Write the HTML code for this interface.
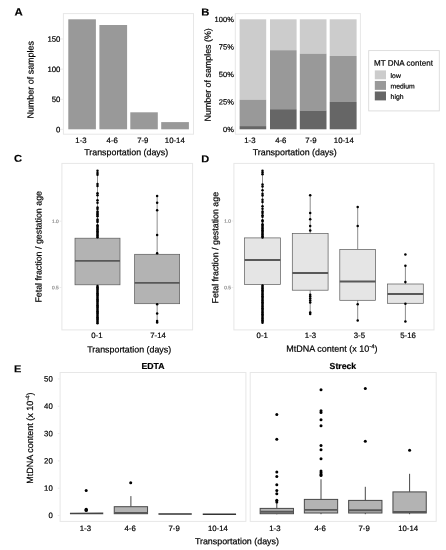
<!DOCTYPE html>
<html lang="en">
<head>
<meta charset="utf-8">
<title>Figure</title>
<style>
html,body{margin:0;padding:0;background:#fff;}
body{width:446px;height:550px;overflow:hidden;}
svg{display:block;font-family:"Liberation Sans", Arial, sans-serif;text-rendering:geometricPrecision;filter:blur(0.3px);}
</style>
</head>
<body>
<svg width="446" height="550" viewBox="0 0 446 550">
<rect x="0" y="0" width="446" height="550" fill="#fff"/>
<text transform="translate(14.4,15.45) rotate(0.03) scale(1.1,1)" font-size="10.4" font-weight="bold" fill="#000" stroke="#000" stroke-width="0.15">A</text>
<rect x="63.4" y="13.6" width="130.10" height="120.60" fill="#fff" stroke="#e7e7e7" stroke-width="1"/>
<rect x="68.3" y="19.3" width="27.60" height="110.00" fill="#999"/>
<rect x="99.4" y="25.0" width="27.70" height="104.30" fill="#999"/>
<rect x="130.3" y="112.3" width="27.50" height="17.00" fill="#999"/>
<rect x="161.2" y="122.1" width="27.70" height="7.20" fill="#999"/>
<text transform="translate(60.40,41.76) rotate(0.03)" font-size="7.8" text-anchor="end" font-weight="normal" fill="#000" stroke="#000" stroke-width="0.2" >150</text>
<text transform="translate(60.40,71.95) rotate(0.03)" font-size="7.8" text-anchor="end" font-weight="normal" fill="#000" stroke="#000" stroke-width="0.2" >100</text>
<text transform="translate(60.40,102.10) rotate(0.03)" font-size="7.8" text-anchor="end" font-weight="normal" fill="#000" stroke="#000" stroke-width="0.2" >50</text>
<text transform="translate(60.40,132.15) rotate(0.03)" font-size="7.8" text-anchor="end" font-weight="normal" fill="#000" stroke="#000" stroke-width="0.2" >0</text>
<text transform="translate(81.00,142.90) rotate(0.03)" font-size="7.8" text-anchor="middle" font-weight="normal" fill="#000" stroke="#000" stroke-width="0.2" >1-3</text>
<text transform="translate(112.20,142.90) rotate(0.03)" font-size="7.8" text-anchor="middle" font-weight="normal" fill="#000" stroke="#000" stroke-width="0.2" >4-6</text>
<text transform="translate(142.80,142.90) rotate(0.03)" font-size="7.8" text-anchor="middle" font-weight="normal" fill="#000" stroke="#000" stroke-width="0.2" >7-9</text>
<text transform="translate(174.80,142.90) rotate(0.03)" font-size="7.8" text-anchor="middle" font-weight="normal" fill="#000" stroke="#000" stroke-width="0.2" >10-14</text>
<text transform="translate(126.20,155.25) rotate(0.03)" font-size="8.88" text-anchor="middle" font-weight="normal" fill="#000" stroke="#000" stroke-width="0.2" >Transportation (days)</text>
<text transform="translate(33.6,79.8) rotate(-89.97)" font-size="8.95" text-anchor="middle" fill="#000" stroke="#000" stroke-width="0.2">Number of samples</text>
<text transform="translate(201.2,15.4) rotate(0.03) scale(1.1,1)" font-size="10.2" font-weight="bold" fill="#000" stroke="#000" stroke-width="0.15">B</text>
<rect x="235.3" y="13.6" width="125.10" height="120.60" fill="#fff" stroke="#e7e7e7" stroke-width="1"/>
<rect x="239.6" y="19.3" width="26.60" height="80.40" fill="#ccc"/>
<rect x="239.6" y="99.7" width="26.60" height="26.40" fill="#999"/>
<rect x="239.6" y="126.1" width="26.60" height="3.20" fill="#666"/>
<rect x="270.0" y="19.3" width="26.60" height="30.90" fill="#ccc"/>
<rect x="270.0" y="50.2" width="26.60" height="59.00" fill="#999"/>
<rect x="270.0" y="109.2" width="26.60" height="20.10" fill="#666"/>
<rect x="299.8" y="19.3" width="26.70" height="34.40" fill="#ccc"/>
<rect x="299.8" y="53.7" width="26.70" height="56.80" fill="#999"/>
<rect x="299.8" y="110.5" width="26.70" height="18.80" fill="#666"/>
<rect x="329.7" y="19.3" width="26.90" height="36.70" fill="#ccc"/>
<rect x="329.7" y="56.0" width="26.90" height="46.00" fill="#999"/>
<rect x="329.7" y="102.0" width="26.90" height="27.30" fill="#666"/>
<text transform="translate(233.80,22.00) rotate(0.03)" font-size="7.5" text-anchor="end" font-weight="normal" fill="#000" stroke="#000" stroke-width="0.2" >100%</text>
<text transform="translate(233.80,49.50) rotate(0.03)" font-size="7.5" text-anchor="end" font-weight="normal" fill="#000" stroke="#000" stroke-width="0.2" >75%</text>
<text transform="translate(233.80,77.00) rotate(0.03)" font-size="7.5" text-anchor="end" font-weight="normal" fill="#000" stroke="#000" stroke-width="0.2" >50%</text>
<text transform="translate(233.80,104.50) rotate(0.03)" font-size="7.5" text-anchor="end" font-weight="normal" fill="#000" stroke="#000" stroke-width="0.2" >25%</text>
<text transform="translate(233.80,132.00) rotate(0.03)" font-size="7.5" text-anchor="end" font-weight="normal" fill="#000" stroke="#000" stroke-width="0.2" >0%</text>
<text transform="translate(249.90,142.90) rotate(0.03)" font-size="7.8" text-anchor="middle" font-weight="normal" fill="#000" stroke="#000" stroke-width="0.2" >1-3</text>
<text transform="translate(280.80,142.90) rotate(0.03)" font-size="7.8" text-anchor="middle" font-weight="normal" fill="#000" stroke="#000" stroke-width="0.2" >4-6</text>
<text transform="translate(311.00,142.90) rotate(0.03)" font-size="7.8" text-anchor="middle" font-weight="normal" fill="#000" stroke="#000" stroke-width="0.2" >7-9</text>
<text transform="translate(343.80,142.90) rotate(0.03)" font-size="7.8" text-anchor="middle" font-weight="normal" fill="#000" stroke="#000" stroke-width="0.2" >10-14</text>
<text transform="translate(294.70,155.20) rotate(0.03)" font-size="8.88" text-anchor="middle" font-weight="normal" fill="#000" stroke="#000" stroke-width="0.2" >Transportation (days)</text>
<text transform="translate(210.7,74.8) rotate(-89.97)" font-size="8.9" text-anchor="middle" fill="#000" stroke="#000" stroke-width="0.2">Number of samples (%)</text>
<rect x="368.7" y="50.6" width="70.6" height="60.3" fill="#fff" stroke="#dadada" stroke-width="0.9"/>
<text transform="translate(374.00,65.80) rotate(0.03)" font-size="8.05" text-anchor="start" font-weight="normal" fill="#000" stroke="#000" stroke-width="0.2" >MT DNA content</text>
<rect x="374.8" y="70.40" width="11.2" height="8.9" fill="#ccc"/>
<text transform="translate(390.60,78.00) rotate(0.03)" font-size="6.8" text-anchor="start" font-weight="normal" fill="#000" stroke="#000" stroke-width="0.2" >low</text>
<rect x="374.8" y="80.95" width="11.2" height="8.9" fill="#999"/>
<text transform="translate(390.60,88.55) rotate(0.03)" font-size="6.8" text-anchor="start" font-weight="normal" fill="#000" stroke="#000" stroke-width="0.2" >medium</text>
<rect x="374.8" y="91.50" width="11.2" height="8.9" fill="#666"/>
<text transform="translate(390.60,99.10) rotate(0.03)" font-size="6.8" text-anchor="start" font-weight="normal" fill="#000" stroke="#000" stroke-width="0.2" >high</text>
<text transform="translate(14.0,161.8) rotate(0.03) scale(1.1,1)" font-size="10" font-weight="bold" fill="#000" stroke="#000" stroke-width="0.15">C</text>
<rect x="61.9" y="163.4" width="130.70" height="166.50" fill="#fff" stroke="#e7e7e7" stroke-width="1"/>
<line x1="97.50" y1="170.70" x2="97.50" y2="238.20" stroke="#5a5a5a" stroke-width="0.7"/>
<line x1="97.50" y1="284.80" x2="97.50" y2="323.40" stroke="#5a5a5a" stroke-width="0.7"/>
<rect x="75.00" y="238.20" width="45.00" height="46.60" fill="#b3b3b3" stroke="#5a5a5a" stroke-width="0.7"/>
<line x1="75.00" y1="260.90" x2="120.00" y2="260.90" stroke="#585858" stroke-width="1.9"/>
<circle cx="97.50" cy="170.70" r="1.25" fill="#000"/>
<circle cx="97.50" cy="172.90" r="1.25" fill="#000"/>
<circle cx="97.50" cy="174.80" r="1.25" fill="#000"/>
<circle cx="97.50" cy="183.90" r="1.25" fill="#000"/>
<circle cx="97.50" cy="186.00" r="1.25" fill="#000"/>
<circle cx="97.50" cy="193.30" r="1.25" fill="#000"/>
<circle cx="97.50" cy="195.20" r="1.25" fill="#000"/>
<circle cx="97.50" cy="200.20" r="1.25" fill="#000"/>
<circle cx="97.50" cy="202.70" r="1.25" fill="#000"/>
<circle cx="97.50" cy="207.50" r="1.25" fill="#000"/>
<circle cx="97.50" cy="209.00" r="1.25" fill="#000"/>
<circle cx="97.50" cy="211.50" r="1.25" fill="#000"/>
<circle cx="97.50" cy="212.70" r="1.25" fill="#000"/>
<circle cx="97.50" cy="213.90" r="1.25" fill="#000"/>
<circle cx="97.50" cy="215.10" r="1.25" fill="#000"/>
<circle cx="97.50" cy="216.30" r="1.25" fill="#000"/>
<circle cx="97.50" cy="219.60" r="1.25" fill="#000"/>
<circle cx="97.50" cy="220.80" r="1.25" fill="#000"/>
<circle cx="97.50" cy="222.00" r="1.25" fill="#000"/>
<circle cx="97.50" cy="225.30" r="1.25" fill="#000"/>
<circle cx="97.50" cy="226.50" r="1.25" fill="#000"/>
<circle cx="97.50" cy="227.70" r="1.25" fill="#000"/>
<circle cx="97.50" cy="228.90" r="1.25" fill="#000"/>
<circle cx="97.50" cy="230.10" r="1.25" fill="#000"/>
<circle cx="97.50" cy="231.30" r="1.25" fill="#000"/>
<circle cx="97.50" cy="232.50" r="1.25" fill="#000"/>
<circle cx="97.50" cy="233.70" r="1.25" fill="#000"/>
<circle cx="97.50" cy="234.90" r="1.25" fill="#000"/>
<circle cx="97.50" cy="236.10" r="1.25" fill="#000"/>
<circle cx="97.50" cy="237.30" r="1.25" fill="#000"/>
<circle cx="97.50" cy="286.00" r="1.25" fill="#000"/>
<circle cx="97.50" cy="287.20" r="1.25" fill="#000"/>
<circle cx="97.50" cy="288.40" r="1.25" fill="#000"/>
<circle cx="97.50" cy="289.60" r="1.25" fill="#000"/>
<circle cx="97.50" cy="290.80" r="1.25" fill="#000"/>
<circle cx="97.50" cy="292.00" r="1.25" fill="#000"/>
<circle cx="97.50" cy="293.20" r="1.25" fill="#000"/>
<circle cx="97.50" cy="294.40" r="1.25" fill="#000"/>
<circle cx="97.50" cy="295.60" r="1.25" fill="#000"/>
<circle cx="97.50" cy="296.80" r="1.25" fill="#000"/>
<circle cx="97.50" cy="298.00" r="1.25" fill="#000"/>
<circle cx="97.50" cy="299.20" r="1.25" fill="#000"/>
<circle cx="97.50" cy="300.40" r="1.25" fill="#000"/>
<circle cx="97.50" cy="301.60" r="1.25" fill="#000"/>
<circle cx="97.50" cy="302.80" r="1.25" fill="#000"/>
<circle cx="97.50" cy="304.00" r="1.25" fill="#000"/>
<circle cx="97.50" cy="305.20" r="1.25" fill="#000"/>
<circle cx="97.50" cy="306.40" r="1.25" fill="#000"/>
<circle cx="97.50" cy="307.60" r="1.25" fill="#000"/>
<circle cx="97.50" cy="308.80" r="1.25" fill="#000"/>
<circle cx="97.50" cy="310.00" r="1.25" fill="#000"/>
<circle cx="97.50" cy="311.20" r="1.25" fill="#000"/>
<circle cx="97.50" cy="312.40" r="1.25" fill="#000"/>
<circle cx="97.50" cy="313.60" r="1.25" fill="#000"/>
<circle cx="97.50" cy="314.80" r="1.25" fill="#000"/>
<circle cx="97.50" cy="316.00" r="1.25" fill="#000"/>
<circle cx="97.50" cy="317.20" r="1.25" fill="#000"/>
<circle cx="97.50" cy="318.40" r="1.25" fill="#000"/>
<circle cx="97.50" cy="319.60" r="1.25" fill="#000"/>
<circle cx="97.50" cy="320.80" r="1.25" fill="#000"/>
<circle cx="97.50" cy="322.00" r="1.25" fill="#000"/>
<circle cx="97.50" cy="323.20" r="1.25" fill="#000"/>
<line x1="157.15" y1="196.00" x2="157.15" y2="254.30" stroke="#5a5a5a" stroke-width="0.7"/>
<line x1="157.15" y1="303.70" x2="157.15" y2="321.50" stroke="#5a5a5a" stroke-width="0.7"/>
<rect x="134.65" y="254.30" width="45.00" height="49.40" fill="#b3b3b3" stroke="#5a5a5a" stroke-width="0.7"/>
<line x1="134.65" y1="282.90" x2="179.65" y2="282.90" stroke="#585858" stroke-width="1.9"/>
<circle cx="157.15" cy="196.00" r="1.25" fill="#000"/>
<circle cx="157.15" cy="202.70" r="1.25" fill="#000"/>
<circle cx="157.15" cy="210.30" r="1.25" fill="#000"/>
<circle cx="157.15" cy="234.90" r="1.25" fill="#000"/>
<circle cx="157.15" cy="253.20" r="1.25" fill="#000"/>
<circle cx="157.15" cy="304.30" r="1.25" fill="#000"/>
<circle cx="157.15" cy="313.60" r="1.25" fill="#000"/>
<circle cx="157.15" cy="320.90" r="1.25" fill="#000"/>
<circle cx="157.15" cy="322.40" r="1.25" fill="#000"/>
<text transform="translate(58.70,223.00) rotate(0.03)" font-size="4.8" text-anchor="end" font-weight="normal" fill="#8f8f8f" stroke="#8f8f8f" stroke-width="0.2" >1.0</text>
<text transform="translate(58.70,289.30) rotate(0.03)" font-size="4.8" text-anchor="end" font-weight="normal" fill="#8f8f8f" stroke="#8f8f8f" stroke-width="0.2" >0.5</text>
<text transform="translate(96.90,338.10) rotate(0.03)" font-size="7.8" text-anchor="middle" font-weight="normal" fill="#000" stroke="#000" stroke-width="0.2" >0-1</text>
<text transform="translate(158.00,338.10) rotate(0.03)" font-size="7.8" text-anchor="middle" font-weight="normal" fill="#000" stroke="#000" stroke-width="0.2" >7-14</text>
<text transform="translate(129.20,352.50) rotate(0.03)" font-size="8.88" text-anchor="middle" font-weight="normal" fill="#000" stroke="#000" stroke-width="0.2" >Transportation (days)</text>
<text transform="translate(41.5,246.8) rotate(-89.97)" font-size="8.85" text-anchor="middle" fill="#000" stroke="#000" stroke-width="0.2">Fetal fraction / gestation age</text>
<text transform="translate(201.2,162.2) rotate(0.03) scale(1.1,1)" font-size="10" font-weight="bold" fill="#000" stroke="#000" stroke-width="0.15">D</text>
<rect x="233.9" y="163.4" width="200.10" height="166.50" fill="#fff" stroke="#e7e7e7" stroke-width="1"/>
<line x1="262.50" y1="170.80" x2="262.50" y2="237.90" stroke="#5a5a5a" stroke-width="0.7"/>
<line x1="262.50" y1="284.40" x2="262.50" y2="322.90" stroke="#5a5a5a" stroke-width="0.7"/>
<rect x="244.60" y="237.90" width="35.80" height="46.50" fill="#e5e5e5" stroke="#5a5a5a" stroke-width="0.7"/>
<line x1="244.60" y1="260.00" x2="280.40" y2="260.00" stroke="#585858" stroke-width="1.9"/>
<circle cx="262.50" cy="170.80" r="1.25" fill="#000"/>
<circle cx="262.50" cy="172.60" r="1.25" fill="#000"/>
<circle cx="262.50" cy="174.20" r="1.25" fill="#000"/>
<circle cx="262.50" cy="184.60" r="1.25" fill="#000"/>
<circle cx="262.50" cy="186.50" r="1.25" fill="#000"/>
<circle cx="262.50" cy="190.30" r="1.25" fill="#000"/>
<circle cx="262.50" cy="193.70" r="1.25" fill="#000"/>
<circle cx="262.50" cy="195.60" r="1.25" fill="#000"/>
<circle cx="262.50" cy="199.70" r="1.25" fill="#000"/>
<circle cx="262.50" cy="202.00" r="1.25" fill="#000"/>
<circle cx="262.50" cy="206.30" r="1.25" fill="#000"/>
<circle cx="262.50" cy="208.80" r="1.25" fill="#000"/>
<circle cx="262.50" cy="211.50" r="1.25" fill="#000"/>
<circle cx="262.50" cy="213.00" r="1.25" fill="#000"/>
<circle cx="262.50" cy="215.20" r="1.25" fill="#000"/>
<circle cx="262.50" cy="216.80" r="1.25" fill="#000"/>
<circle cx="262.50" cy="220.20" r="1.25" fill="#000"/>
<circle cx="262.50" cy="221.50" r="1.25" fill="#000"/>
<circle cx="262.50" cy="224.30" r="1.25" fill="#000"/>
<circle cx="262.50" cy="225.50" r="1.25" fill="#000"/>
<circle cx="262.50" cy="226.70" r="1.25" fill="#000"/>
<circle cx="262.50" cy="227.90" r="1.25" fill="#000"/>
<circle cx="262.50" cy="229.10" r="1.25" fill="#000"/>
<circle cx="262.50" cy="230.30" r="1.25" fill="#000"/>
<circle cx="262.50" cy="231.50" r="1.25" fill="#000"/>
<circle cx="262.50" cy="232.70" r="1.25" fill="#000"/>
<circle cx="262.50" cy="233.90" r="1.25" fill="#000"/>
<circle cx="262.50" cy="235.10" r="1.25" fill="#000"/>
<circle cx="262.50" cy="236.30" r="1.25" fill="#000"/>
<circle cx="262.50" cy="237.50" r="1.25" fill="#000"/>
<circle cx="262.50" cy="285.50" r="1.25" fill="#000"/>
<circle cx="262.50" cy="286.70" r="1.25" fill="#000"/>
<circle cx="262.50" cy="287.90" r="1.25" fill="#000"/>
<circle cx="262.50" cy="289.10" r="1.25" fill="#000"/>
<circle cx="262.50" cy="290.30" r="1.25" fill="#000"/>
<circle cx="262.50" cy="291.50" r="1.25" fill="#000"/>
<circle cx="262.50" cy="292.70" r="1.25" fill="#000"/>
<circle cx="262.50" cy="293.90" r="1.25" fill="#000"/>
<circle cx="262.50" cy="295.10" r="1.25" fill="#000"/>
<circle cx="262.50" cy="296.30" r="1.25" fill="#000"/>
<circle cx="262.50" cy="297.50" r="1.25" fill="#000"/>
<circle cx="262.50" cy="298.70" r="1.25" fill="#000"/>
<circle cx="262.50" cy="299.90" r="1.25" fill="#000"/>
<circle cx="262.50" cy="301.10" r="1.25" fill="#000"/>
<circle cx="262.50" cy="302.30" r="1.25" fill="#000"/>
<circle cx="262.50" cy="303.50" r="1.25" fill="#000"/>
<circle cx="262.50" cy="304.70" r="1.25" fill="#000"/>
<circle cx="262.50" cy="305.90" r="1.25" fill="#000"/>
<circle cx="262.50" cy="307.10" r="1.25" fill="#000"/>
<circle cx="262.50" cy="308.30" r="1.25" fill="#000"/>
<circle cx="262.50" cy="309.50" r="1.25" fill="#000"/>
<circle cx="262.50" cy="310.70" r="1.25" fill="#000"/>
<circle cx="262.50" cy="311.90" r="1.25" fill="#000"/>
<circle cx="262.50" cy="313.10" r="1.25" fill="#000"/>
<circle cx="262.50" cy="314.30" r="1.25" fill="#000"/>
<circle cx="262.50" cy="315.50" r="1.25" fill="#000"/>
<circle cx="262.50" cy="316.70" r="1.25" fill="#000"/>
<circle cx="262.50" cy="317.90" r="1.25" fill="#000"/>
<circle cx="262.50" cy="319.10" r="1.25" fill="#000"/>
<circle cx="262.50" cy="320.30" r="1.25" fill="#000"/>
<circle cx="262.50" cy="321.50" r="1.25" fill="#000"/>
<circle cx="262.50" cy="322.70" r="1.25" fill="#000"/>
<line x1="310.20" y1="195.50" x2="310.20" y2="233.50" stroke="#5a5a5a" stroke-width="0.7"/>
<line x1="310.20" y1="290.20" x2="310.20" y2="314.10" stroke="#5a5a5a" stroke-width="0.7"/>
<rect x="292.30" y="233.50" width="35.80" height="56.70" fill="#e5e5e5" stroke="#5a5a5a" stroke-width="0.7"/>
<line x1="292.30" y1="273.00" x2="328.10" y2="273.00" stroke="#585858" stroke-width="1.9"/>
<circle cx="310.20" cy="195.30" r="1.25" fill="#000"/>
<circle cx="310.20" cy="212.90" r="1.25" fill="#000"/>
<circle cx="310.20" cy="219.20" r="1.25" fill="#000"/>
<circle cx="310.20" cy="226.00" r="1.25" fill="#000"/>
<circle cx="310.20" cy="230.50" r="1.25" fill="#000"/>
<circle cx="310.20" cy="294.80" r="1.25" fill="#000"/>
<circle cx="310.20" cy="296.50" r="1.25" fill="#000"/>
<circle cx="310.20" cy="298.50" r="1.25" fill="#000"/>
<circle cx="310.20" cy="300.50" r="1.25" fill="#000"/>
<circle cx="310.20" cy="302.50" r="1.25" fill="#000"/>
<circle cx="310.20" cy="312.40" r="1.25" fill="#000"/>
<circle cx="310.20" cy="314.10" r="1.25" fill="#000"/>
<line x1="357.70" y1="207.10" x2="357.70" y2="249.40" stroke="#5a5a5a" stroke-width="0.7"/>
<line x1="357.70" y1="300.30" x2="357.70" y2="320.40" stroke="#5a5a5a" stroke-width="0.7"/>
<rect x="339.80" y="249.40" width="35.80" height="50.90" fill="#e5e5e5" stroke="#5a5a5a" stroke-width="0.7"/>
<line x1="339.80" y1="281.50" x2="375.60" y2="281.50" stroke="#585858" stroke-width="1.9"/>
<circle cx="357.70" cy="207.10" r="1.25" fill="#000"/>
<circle cx="357.70" cy="226.00" r="1.25" fill="#000"/>
<circle cx="357.70" cy="304.30" r="1.25" fill="#000"/>
<circle cx="357.70" cy="320.40" r="1.25" fill="#000"/>
<line x1="405.40" y1="265.70" x2="405.40" y2="284.00" stroke="#5a5a5a" stroke-width="0.7"/>
<line x1="405.40" y1="303.30" x2="405.40" y2="321.40" stroke="#5a5a5a" stroke-width="0.7"/>
<rect x="387.50" y="284.00" width="35.80" height="19.30" fill="#e5e5e5" stroke="#5a5a5a" stroke-width="0.7"/>
<line x1="387.50" y1="294.00" x2="423.30" y2="294.00" stroke="#585858" stroke-width="1.9"/>
<circle cx="405.40" cy="254.40" r="1.25" fill="#000"/>
<circle cx="405.40" cy="265.70" r="1.25" fill="#000"/>
<circle cx="405.40" cy="282.00" r="1.25" fill="#000"/>
<circle cx="405.40" cy="303.80" r="1.25" fill="#000"/>
<circle cx="405.40" cy="321.40" r="1.25" fill="#000"/>
<text transform="translate(230.80,222.80) rotate(0.03)" font-size="4.8" text-anchor="end" font-weight="normal" fill="#8f8f8f" stroke="#8f8f8f" stroke-width="0.2" >1.0</text>
<text transform="translate(230.80,289.30) rotate(0.03)" font-size="4.8" text-anchor="end" font-weight="normal" fill="#8f8f8f" stroke="#8f8f8f" stroke-width="0.2" >0.5</text>
<text transform="translate(262.20,338.10) rotate(0.03)" font-size="7.8" text-anchor="middle" font-weight="normal" fill="#000" stroke="#000" stroke-width="0.2" >0-1</text>
<text transform="translate(310.50,338.10) rotate(0.03)" font-size="7.8" text-anchor="middle" font-weight="normal" fill="#000" stroke="#000" stroke-width="0.2" >1-3</text>
<text transform="translate(359.40,338.10) rotate(0.03)" font-size="7.8" text-anchor="middle" font-weight="normal" fill="#000" stroke="#000" stroke-width="0.2" >3-5</text>
<text transform="translate(408.00,338.10) rotate(0.03)" font-size="7.8" text-anchor="middle" font-weight="normal" fill="#000" stroke="#000" stroke-width="0.2" >5-16</text>
<text transform="translate(331.8,351.7) rotate(0.03)" font-size="9" text-anchor="middle" stroke="#000" stroke-width="0.2">MtDNA content (x 10<tspan font-size="5.8" dy="-3.4">-4</tspan><tspan dy="3.4">)</tspan></text>
<text transform="translate(218.3,247.7) rotate(-89.97)" font-size="8.85" text-anchor="middle" fill="#000" stroke="#000" stroke-width="0.2">Fetal fraction / gestation age</text>
<text transform="translate(14.1,372.3) rotate(0.03) scale(1.1,1)" font-size="10" font-weight="bold" fill="#000" stroke="#000" stroke-width="0.15">E</text>
<rect x="60.1" y="372.5" width="185.80" height="148.90" fill="#fff" stroke="#e7e7e7" stroke-width="1"/>
<rect x="250.2" y="372.5" width="186.00" height="148.90" fill="#fff" stroke="#e7e7e7" stroke-width="1"/>
<text transform="translate(153.00,369.00) rotate(0.03)" font-size="8.7" text-anchor="middle" font-weight="bold" fill="#000" stroke="#000" stroke-width="0.2" >EDTA</text>
<text transform="translate(342.90,369.10) rotate(0.03)" font-size="8.7" text-anchor="middle" font-weight="bold" fill="#000" stroke="#000" stroke-width="0.2" >Streck</text>
<text transform="translate(52.80,518.10) rotate(0.03)" font-size="7.8" text-anchor="end" font-weight="normal" fill="#000" stroke="#000" stroke-width="0.2" >0</text>
<text transform="translate(52.80,490.79) rotate(0.03)" font-size="7.8" text-anchor="end" font-weight="normal" fill="#000" stroke="#000" stroke-width="0.2" >10</text>
<text transform="translate(52.80,463.48) rotate(0.03)" font-size="7.8" text-anchor="end" font-weight="normal" fill="#000" stroke="#000" stroke-width="0.2" >20</text>
<text transform="translate(52.80,436.17) rotate(0.03)" font-size="7.8" text-anchor="end" font-weight="normal" fill="#000" stroke="#000" stroke-width="0.2" >30</text>
<text transform="translate(52.80,408.86) rotate(0.03)" font-size="7.8" text-anchor="end" font-weight="normal" fill="#000" stroke="#000" stroke-width="0.2" >40</text>
<text transform="translate(52.80,381.55) rotate(0.03)" font-size="7.8" text-anchor="end" font-weight="normal" fill="#000" stroke="#000" stroke-width="0.2" >50</text>
<line x1="69.94999999999999" y1="513.5" x2="103.25" y2="513.4" stroke="#444" stroke-width="1.7"/>
<circle cx="86.20" cy="490.60" r="1.5" fill="#000"/>
<circle cx="86.20" cy="509.40" r="1.7" fill="#000"/>
<circle cx="86.20" cy="510.40" r="1.7" fill="#000"/>
<line x1="130.90" y1="496.10" x2="130.90" y2="506.70" stroke="#484848" stroke-width="1.0"/>
<rect x="114.25" y="506.70" width="33.30" height="7.00" fill="#b3b3b3" stroke="#484848" stroke-width="1.0"/>
<line x1="114.25" y1="513.00" x2="147.55" y2="513.00" stroke="#585858" stroke-width="1.9"/>
<circle cx="130.70" cy="482.80" r="1.5" fill="#000"/>
<line x1="158.45" y1="514.0" x2="191.75" y2="514.0" stroke="#333" stroke-width="1.4"/>
<line x1="202.75" y1="514.3" x2="236.05" y2="514.3" stroke="#333" stroke-width="1.4"/>
<text transform="translate(85.40,531.00) rotate(0.03)" font-size="7.8" text-anchor="middle" font-weight="normal" fill="#000" stroke="#000" stroke-width="0.2" >1-3</text>
<text transform="translate(130.10,531.00) rotate(0.03)" font-size="7.8" text-anchor="middle" font-weight="normal" fill="#000" stroke="#000" stroke-width="0.2" >4-6</text>
<text transform="translate(174.10,531.00) rotate(0.03)" font-size="7.8" text-anchor="middle" font-weight="normal" fill="#000" stroke="#000" stroke-width="0.2" >7-9</text>
<text transform="translate(217.90,531.00) rotate(0.03)" font-size="7.8" text-anchor="middle" font-weight="normal" fill="#000" stroke="#000" stroke-width="0.2" >10-14</text>
<line x1="276.80" y1="502.40" x2="276.80" y2="508.40" stroke="#484848" stroke-width="1.0"/>
<line x1="276.80" y1="513.70" x2="276.80" y2="514.30" stroke="#484848" stroke-width="1.0"/>
<rect x="260.15" y="508.40" width="33.30" height="5.30" fill="#b3b3b3" stroke="#484848" stroke-width="1.0"/>
<line x1="260.15" y1="511.70" x2="293.45" y2="511.70" stroke="#585858" stroke-width="1.9"/>
<circle cx="276.80" cy="414.60" r="1.5" fill="#000"/>
<circle cx="276.80" cy="439.30" r="1.5" fill="#000"/>
<circle cx="276.80" cy="471.90" r="1.5" fill="#000"/>
<circle cx="276.80" cy="476.60" r="1.5" fill="#000"/>
<circle cx="276.80" cy="484.70" r="1.5" fill="#000"/>
<circle cx="276.80" cy="490.60" r="1.5" fill="#000"/>
<circle cx="276.80" cy="493.80" r="1.5" fill="#000"/>
<circle cx="276.80" cy="500.30" r="1.5" fill="#000"/>
<circle cx="276.80" cy="502.00" r="1.5" fill="#000"/>
<line x1="321.00" y1="479.30" x2="321.00" y2="499.40" stroke="#484848" stroke-width="1.0"/>
<line x1="321.00" y1="513.00" x2="321.00" y2="514.20" stroke="#484848" stroke-width="1.0"/>
<rect x="304.35" y="499.40" width="33.30" height="13.60" fill="#b3b3b3" stroke="#484848" stroke-width="1.0"/>
<line x1="304.35" y1="509.90" x2="337.65" y2="509.90" stroke="#585858" stroke-width="1.9"/>
<circle cx="321.00" cy="389.70" r="1.5" fill="#000"/>
<circle cx="321.00" cy="410.80" r="1.5" fill="#000"/>
<circle cx="321.00" cy="412.60" r="1.5" fill="#000"/>
<circle cx="321.00" cy="419.80" r="1.5" fill="#000"/>
<circle cx="321.00" cy="425.80" r="1.5" fill="#000"/>
<circle cx="321.00" cy="445.40" r="1.5" fill="#000"/>
<circle cx="321.00" cy="449.70" r="1.5" fill="#000"/>
<circle cx="321.00" cy="458.80" r="1.5" fill="#000"/>
<circle cx="321.00" cy="471.00" r="1.5" fill="#000"/>
<circle cx="321.00" cy="472.80" r="1.5" fill="#000"/>
<circle cx="321.00" cy="474.40" r="1.5" fill="#000"/>
<circle cx="321.00" cy="475.60" r="1.5" fill="#000"/>
<line x1="365.30" y1="486.80" x2="365.30" y2="500.40" stroke="#484848" stroke-width="1.0"/>
<line x1="365.30" y1="513.00" x2="365.30" y2="514.20" stroke="#484848" stroke-width="1.0"/>
<rect x="348.65" y="500.40" width="33.30" height="12.60" fill="#b3b3b3" stroke="#484848" stroke-width="1.0"/>
<line x1="348.65" y1="510.30" x2="381.95" y2="510.30" stroke="#585858" stroke-width="1.9"/>
<circle cx="365.30" cy="388.40" r="1.5" fill="#000"/>
<circle cx="365.30" cy="441.20" r="1.5" fill="#000"/>
<line x1="409.60" y1="473.80" x2="409.60" y2="491.90" stroke="#484848" stroke-width="1.0"/>
<line x1="409.60" y1="513.00" x2="409.60" y2="514.20" stroke="#484848" stroke-width="1.0"/>
<rect x="392.95" y="491.90" width="33.30" height="21.10" fill="#b3b3b3" stroke="#484848" stroke-width="1.0"/>
<line x1="392.95" y1="512.00" x2="426.25" y2="512.00" stroke="#585858" stroke-width="1.9"/>
<circle cx="409.60" cy="450.20" r="1.5" fill="#000"/>
<text transform="translate(274.90,531.00) rotate(0.03)" font-size="7.8" text-anchor="middle" font-weight="normal" fill="#000" stroke="#000" stroke-width="0.2" >1-3</text>
<text transform="translate(320.10,531.00) rotate(0.03)" font-size="7.8" text-anchor="middle" font-weight="normal" fill="#000" stroke="#000" stroke-width="0.2" >4-6</text>
<text transform="translate(364.10,531.00) rotate(0.03)" font-size="7.8" text-anchor="middle" font-weight="normal" fill="#000" stroke="#000" stroke-width="0.2" >7-9</text>
<text transform="translate(408.10,531.00) rotate(0.03)" font-size="7.8" text-anchor="middle" font-weight="normal" fill="#000" stroke="#000" stroke-width="0.2" >10-14</text>
<text transform="translate(236.90,544.20) rotate(0.03)" font-size="8.88" text-anchor="middle" font-weight="normal" fill="#000" stroke="#000" stroke-width="0.2" >Transportation (days)</text>
<text transform="translate(32.9,438.1) rotate(-89.97)" font-size="9" text-anchor="middle" stroke="#000" stroke-width="0.2">MtDNA content (x 10<tspan font-size="5.8" dy="-3.4">-4</tspan><tspan dy="3.4">)</tspan></text>
<line x1="61.10" y1="38.96" x2="62.90" y2="38.96" stroke="#e2e2e2" stroke-width="0.7"/>
<line x1="61.10" y1="69.15" x2="62.90" y2="69.15" stroke="#e2e2e2" stroke-width="0.7"/>
<line x1="61.10" y1="99.30" x2="62.90" y2="99.30" stroke="#e2e2e2" stroke-width="0.7"/>
<line x1="61.10" y1="129.35" x2="62.90" y2="129.35" stroke="#e2e2e2" stroke-width="0.7"/>
<line x1="233.00" y1="19.30" x2="234.80" y2="19.30" stroke="#e2e2e2" stroke-width="0.7"/>
<line x1="233.00" y1="46.80" x2="234.80" y2="46.80" stroke="#e2e2e2" stroke-width="0.7"/>
<line x1="233.00" y1="74.30" x2="234.80" y2="74.30" stroke="#e2e2e2" stroke-width="0.7"/>
<line x1="233.00" y1="101.80" x2="234.80" y2="101.80" stroke="#e2e2e2" stroke-width="0.7"/>
<line x1="233.00" y1="129.30" x2="234.80" y2="129.30" stroke="#e2e2e2" stroke-width="0.7"/>
<line x1="59.60" y1="221.20" x2="61.40" y2="221.20" stroke="#e2e2e2" stroke-width="0.7"/>
<line x1="59.60" y1="287.50" x2="61.40" y2="287.50" stroke="#e2e2e2" stroke-width="0.7"/>
<line x1="231.60" y1="221.00" x2="233.40" y2="221.00" stroke="#e2e2e2" stroke-width="0.7"/>
<line x1="231.60" y1="287.50" x2="233.40" y2="287.50" stroke="#e2e2e2" stroke-width="0.7"/>
<line x1="57.80" y1="515.50" x2="59.60" y2="515.50" stroke="#e2e2e2" stroke-width="0.7"/>
<line x1="57.80" y1="488.19" x2="59.60" y2="488.19" stroke="#e2e2e2" stroke-width="0.7"/>
<line x1="57.80" y1="460.88" x2="59.60" y2="460.88" stroke="#e2e2e2" stroke-width="0.7"/>
<line x1="57.80" y1="433.57" x2="59.60" y2="433.57" stroke="#e2e2e2" stroke-width="0.7"/>
<line x1="57.80" y1="406.26" x2="59.60" y2="406.26" stroke="#e2e2e2" stroke-width="0.7"/>
<line x1="57.80" y1="378.95" x2="59.60" y2="378.95" stroke="#e2e2e2" stroke-width="0.7"/>
</svg>
</body>
</html>
